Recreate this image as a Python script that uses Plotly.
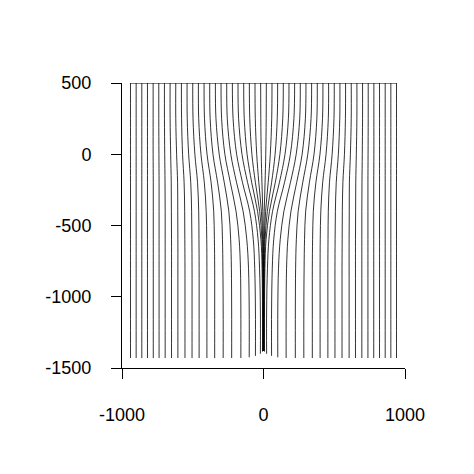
import plotly.graph_objects as go

# depths (y) at which each curve's x position is sampled
depths = [500, 250, 0, -200, -400, -600, -800, -1100]

# right-half curves: x positions at each depth (left half is the mirror image)
right_curves = [
    [20, 19, 16, 11, 5, 2, 1, 0.5],
    [60, 58, 48, 33, 15, 6, 3, 2],
    [100, 97, 82, 57, 27, 11, 6, 4],
    [140, 136, 116, 83, 42, 18, 10, 7],
    [180, 176, 152, 112, 64, 38, 28, 22],
    [220, 215, 190, 148, 98, 72, 62, 57],
    [260, 256, 231, 190, 144, 118, 106, 101],
    [300, 296, 273, 234, 194, 172, 163, 160],
    [340, 336, 313, 277, 245, 232, 227, 225],
    [380, 377, 357, 324, 298, 290, 287, 285],
    [420, 417, 399, 370, 352, 347, 345, 345],
    [460, 458, 442, 418, 405, 401, 400, 400],
    [500, 498, 485, 466, 458, 456, 455, 455],
    [540, 539, 529, 514, 508, 506, 505, 505],
    [580, 579, 572, 561, 557, 556, 555, 555],
    [620, 620, 614, 607, 606, 605, 605, 605],
    [660, 660, 656, 652, 651, 650, 650, 650],
    [700, 700, 698, 696, 695, 695, 695, 695],
    [740, 740, 739, 738, 738, 738, 738, 738],
    [780, 780, 780, 779, 779, 779, 779, 779],
    [820, 820, 820, 820, 820, 820, 820, 820],
    [860, 860, 860, 860, 860, 860, 860, 860],
    [900, 900, 900, 900, 900, 900, 900, 900],
    [940, 940, 940, 940, 940, 940, 940, 940],
]
# bottom end depth of each right-half curve
end_depths = [-1380, -1380, -1380, -1385, -1400, -1415, -1425] + [-1430] * 17

x_ticks = [-1000, 0, 1000]
x_labels = ["-1000", "0", "1000"]
y_ticks = [500, 0, -500, -1000, -1500]
y_labels = ["500", "0", "-500", "-1000", "-1500"]

fig = go.Figure()
for xs, yend in zip(right_curves, end_depths):
    for sign in (1, -1):
        fig.add_trace(go.Scatter(
            x=[sign * v for v in xs] + [sign * xs[-1]],
            y=depths + [yend],
            mode="lines", line=dict(color="black", width=0.8, shape="spline"),
            showlegend=False, hoverinfo="skip"))

# top edge joining the curve starts
fig.add_trace(go.Scatter(x=[-right_curves[-1][0], right_curves[-1][0]], y=[500, 500],
                         mode="lines", line=dict(color="black", width=1),
                         showlegend=False, hoverinfo="skip"))

axis = dict(showgrid=False, zeroline=False, showline=True, linecolor="black",
            linewidth=1, ticks="outside", ticklen=10, tickcolor="black",
            tickfont=dict(family="Liberation Sans", size=18, color="black"))
fig.update_layout(
    width=474, height=474, plot_bgcolor="white", paper_bgcolor="white",
    margin=dict(l=114, r=77, t=75, b=114),
    xaxis=dict(axis, range=[-1000, 1000], tickvals=x_ticks, ticktext=x_labels,
               ticklabelstandoff=20),
    yaxis=dict(axis, range=[-1500, 500], tickvals=y_ticks, ticktext=y_labels,
               ticklabelstandoff=16),
)
fig.write_html("out.html")
